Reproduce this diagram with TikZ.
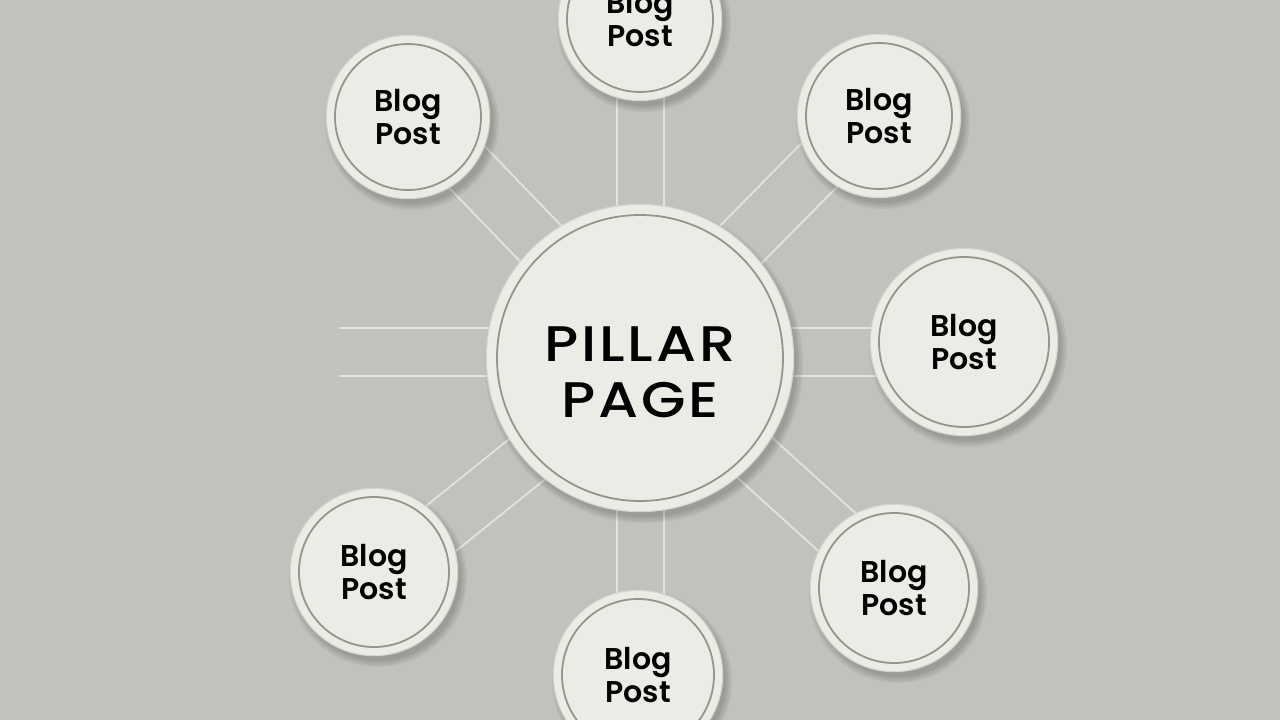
\documentclass[tikz,border=0pt]{standalone}
\usepackage{fontspec}
\setmainfont{Poppins}[BoldFont={Poppins SemiBold}]
\newfontfamily\pillarfont{Poppins Medium}[FakeStretch=1.15, LetterSpace=6]
\usetikzlibrary{calc}
\definecolor{bgc}{HTML}{C2C2BD}
\definecolor{discc}{HTML}{ECEBE5}
\definecolor{edgec}{HTML}{D6D5CE}
\definecolor{ringc}{HTML}{96958D}
\definecolor{linec}{HTML}{E3E3DD}
\pgfdeclarelayer{bglayer}
\pgfdeclarelayer{connlayer}
\pgfdeclarelayer{shadowlayer}
\pgfsetlayers{bglayer,connlayer,shadowlayer,main}
\begin{document}
\begin{tikzpicture}[x=1pt,y=-1pt,
  disc/.style={circle, draw=ringc, line width=1.8pt, fill=discc,
    inner sep=0pt, outer sep=0pt, text=black, align=center,
    preaction={draw=edgec, line width=#1+2.4pt},
    preaction={draw=discc, line width=#1}},
  blog/.style={disc=16pt, font=\bfseries\fontsize{30}{33}\selectfont},
  pillarstyle/.style={disc=20pt, font=\pillarfont\fontsize{50}{56}\selectfont},
  conn/.style={draw=linec, line width=1.8pt, line cap=round},
  shade/.style={fill=black, opacity=0.05}
]
\useasboundingbox (0,0) rectangle (1280,720);
\begin{pgfonlayer}{bglayer}
  \fill[bgc] (0,0) rectangle (1280,720);
\end{pgfonlayer}

\node[pillarstyle, minimum size=286pt] (pillar) at (640,358)
  {\raisebox{-20pt}[\height][\depth]{\begin{tabular}{@{}c@{}}PILLAR\\PAGE\end{tabular}}};
\node[blog, minimum size=146pt] (bpA) at (408,117) {Blog\\Post};
\node[blog, minimum size=146pt] (bpB) at (640,19) {Blog\\Post};
\node[blog, minimum size=146pt] (bpC) at (879,116) {Blog\\Post};
\node[blog, minimum size=170pt] (bpD) at (964,342) {Blog\\Post};
\node[blog, minimum size=150pt] (bpE) at (894,588) {Blog\\Post};
\node[blog, minimum size=152pt] (bpF) at (638,675) {Blog\\Post};
\node[blog, minimum size=150pt] (bpG) at (374,572) {Blog\\Post};

\coordinate (L1) at (340,328);
\coordinate (L2) at (340,376);

\begin{pgfonlayer}{shadowlayer}
  \foreach \n/\r in {pillar/153, bpA/81, bpB/81, bpC/81, bpD/93, bpE/83, bpF/84, bpG/83}{
    \foreach \k in {0,2,4,6}{
      \fill[shade] ($(\n)+(4,6)$) circle (\r+\k);
    }
  }
\end{pgfonlayer}

\begin{pgfonlayer}{connlayer}
  % top
  \draw[conn] ($(pillar)+(-23,0)$) -- ($(bpB)+(-23,0)$);
  \draw[conn] ($(pillar)+(24,0)$) -- ($(bpB)+(24,0)$);
  % bottom
  \draw[conn] ($(pillar)+(-23,0)$) -- ($(bpF)+(-21,0)$);
  \draw[conn] ($(pillar)+(24,0)$) -- ($(bpF)+(26,0)$);
  % left (free ends)
  \draw[conn] (L1) -- (L1 -| pillar);
  \draw[conn] (L2) -- (L2 -| pillar);
  % right
  \draw[conn] ($(pillar)+(0,-30)$) -- ($(bpD)+(0,-14)$);
  \draw[conn] ($(pillar)+(0,18)$) -- ($(bpD)+(0,34)$);
  % top-left
  \draw[conn] ($(pillar)+(25.2,-24.3)$) -- ($(bpA)+(25.2,-24.3)$);
  \draw[conn] ($(pillar)+(-14.0,13.5)$) -- ($(bpA)+(-14.0,13.5)$);
  % top-right
  \draw[conn] ($(pillar)+(-25.6,-25.3)$) -- ($(bpC)+(-25.6,-25.3)$);
  \draw[conn] ($(pillar)+(14.2,14.1)$) -- ($(bpC)+(14.2,14.1)$);
  % bottom-left
  \draw[conn] ($(pillar)+(-11.8,-14.7)$) -- ($(bpG)+(-11.8,-14.7)$);
  \draw[conn] ($(pillar)+(21.9,27.3)$) -- ($(bpG)+(21.9,27.3)$);
  % bottom-right
  \draw[conn] ($(pillar)+(19.9,-22.0)$) -- ($(bpE)+(19.9,-22.0)$);
  \draw[conn] ($(pillar)+(-15.7,17.3)$) -- ($(bpE)+(-15.7,17.3)$);
\end{pgfonlayer}
\end{tikzpicture}
\end{document}
